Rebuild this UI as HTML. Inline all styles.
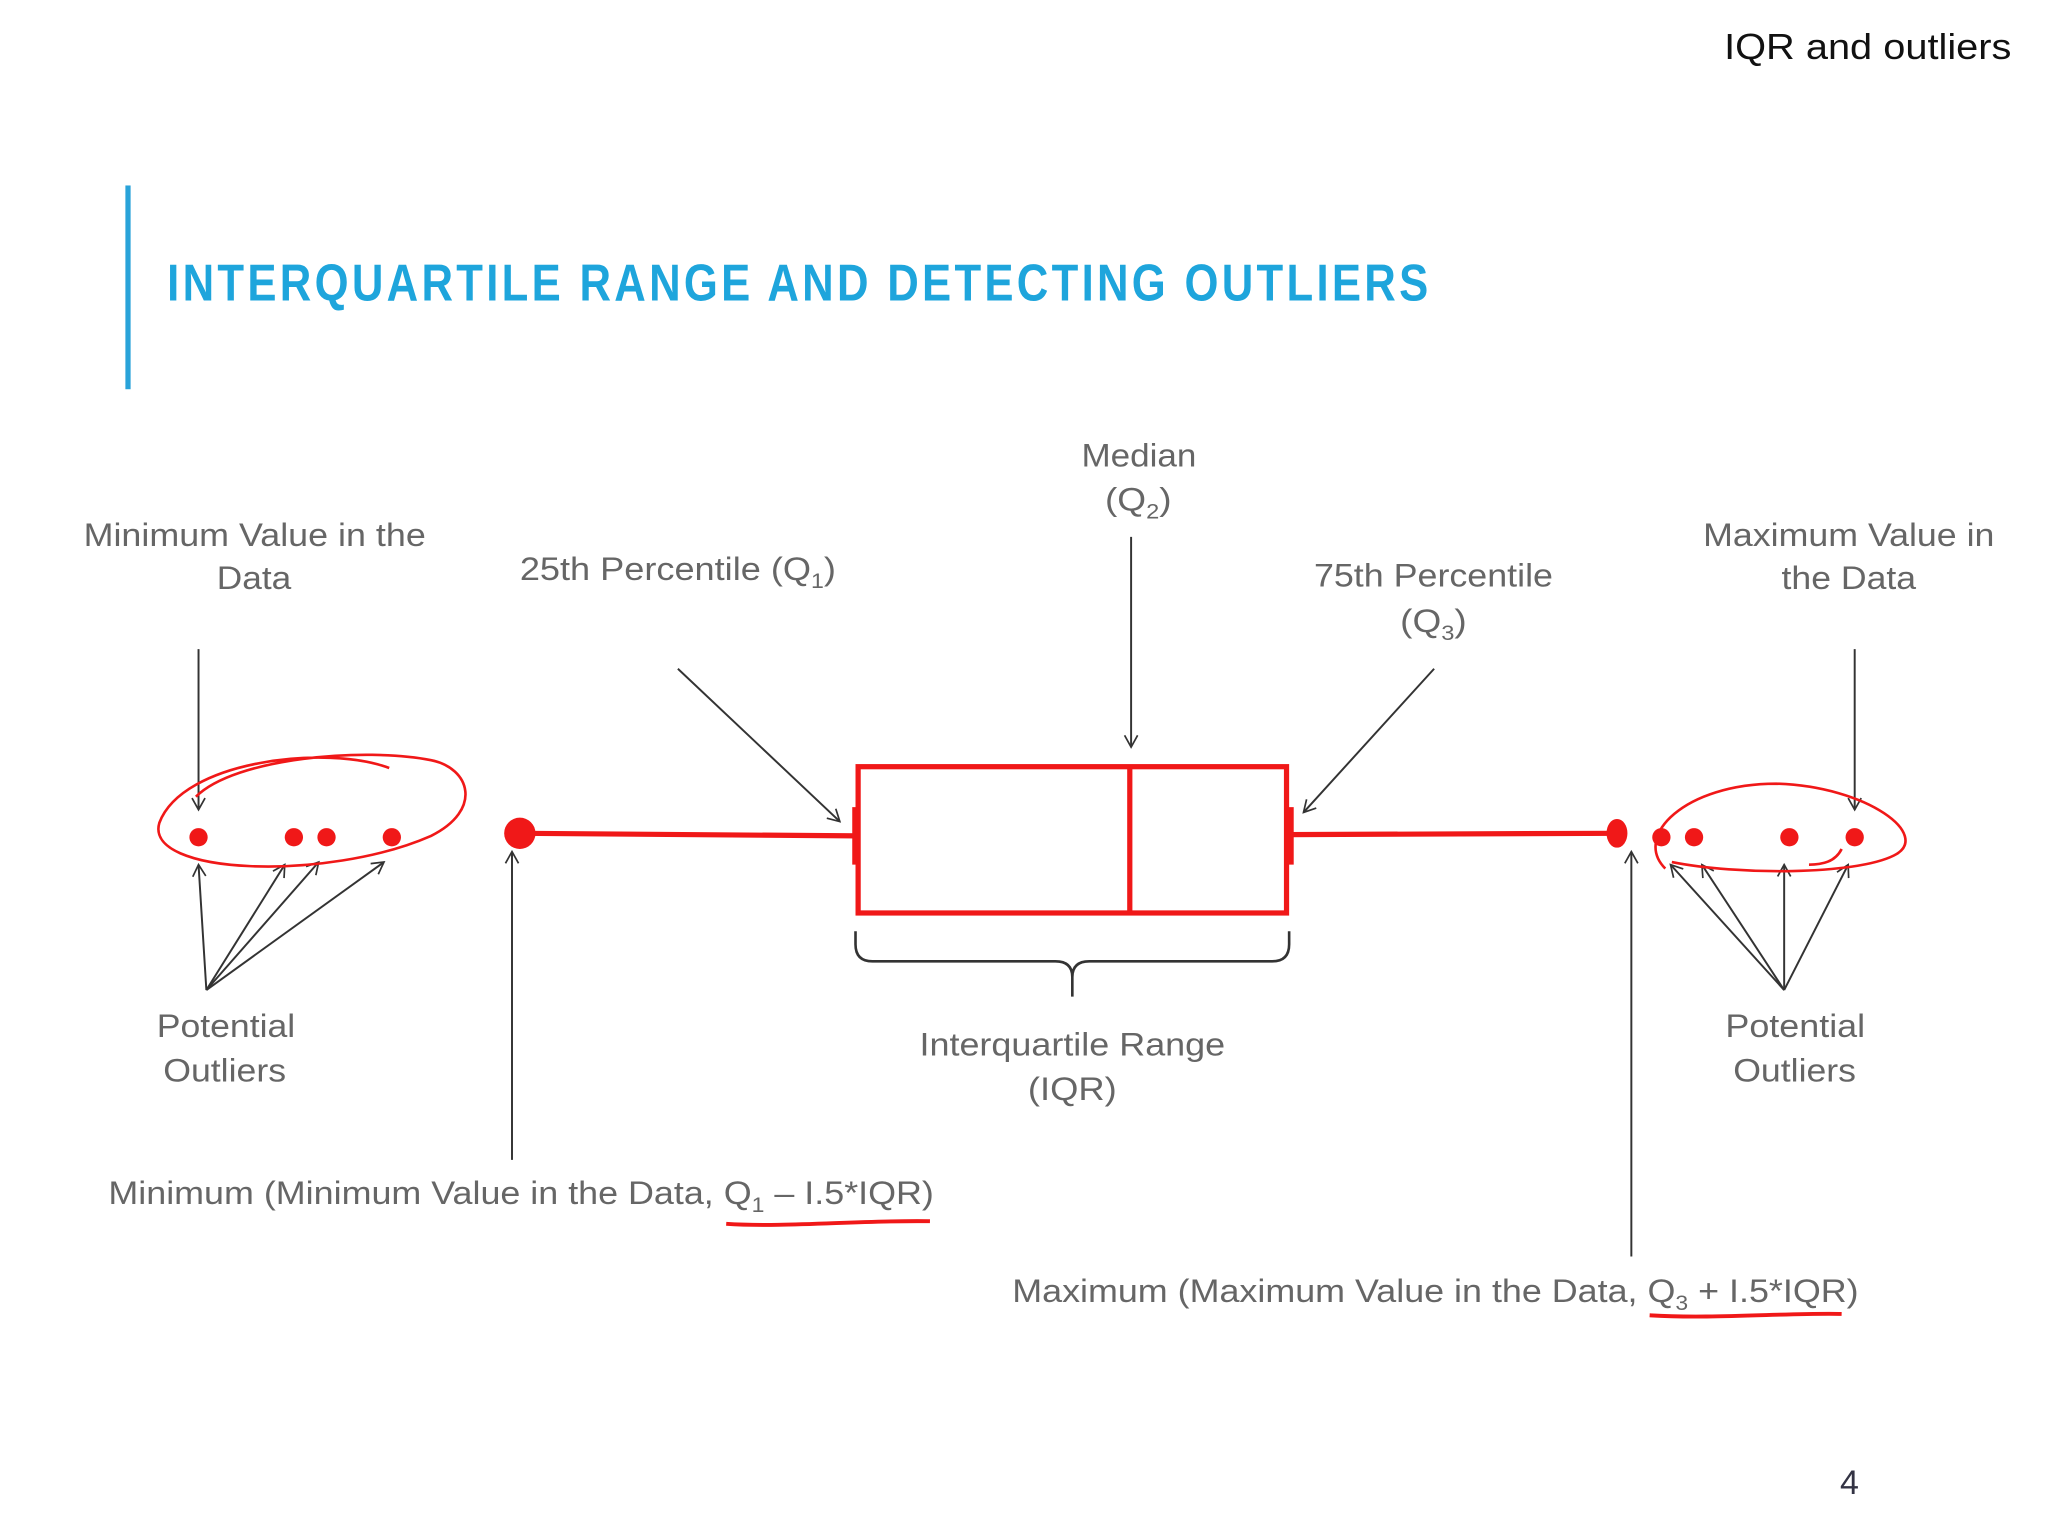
<!DOCTYPE html>
<html><head><meta charset="utf-8"><style>
html,body{margin:0;padding:0;background:#fff;}
svg{display:block;}
text{font-family:"Liberation Sans",sans-serif;}
</style></head><body>
<svg width="2048" height="1536" viewBox="0 0 1568 1176" xmlns="http://www.w3.org/2000/svg">
<defs>
<marker id="a" markerWidth="12" markerHeight="12" refX="10" refY="6" orient="auto" markerUnits="userSpaceOnUse">
<path d="M1,1 L10,6 L1,11" fill="none" stroke="#333" stroke-width="1.3"/>
</marker>
</defs>
<rect width="1568" height="1176" fill="#fff"/>
<text x="1320" y="45" font-size="28" fill="#111" textLength="220" lengthAdjust="spacingAndGlyphs">IQR and outliers</text>
<rect x="96" y="142" width="4" height="156" fill="#29a3d9"/>
<text x="128" y="230" font-size="40" font-weight="bold" fill="#1ea5dc" letter-spacing="3" textLength="968" lengthAdjust="spacingAndGlyphs">INTERQUARTILE RANGE AND DETECTING OUTLIERS</text>

<g fill="#666" font-size="25" lengthAdjust="spacingAndGlyphs">
<text x="828" y="357" textLength="88" lengthAdjust="spacingAndGlyphs">Median</text>
<text x="846" y="391" textLength="51" lengthAdjust="spacingAndGlyphs">(Q<tspan font-size="16" dy="6">2</tspan><tspan dy="-6">)</tspan></text>
<text x="64" y="418" textLength="262" lengthAdjust="spacingAndGlyphs">Minimum Value in the</text>
<text x="166" y="451" textLength="57" lengthAdjust="spacingAndGlyphs">Data</text>
<text x="398" y="444" textLength="242" lengthAdjust="spacingAndGlyphs">25th Percentile (Q<tspan font-size="16" dy="6">1</tspan><tspan dy="-6">)</tspan></text>
<text x="1006" y="449" textLength="183" lengthAdjust="spacingAndGlyphs">75th Percentile</text>
<text x="1072" y="484" textLength="51" lengthAdjust="spacingAndGlyphs">(Q<tspan font-size="16" dy="6">3</tspan><tspan dy="-6">)</tspan></text>
<text x="1304" y="418" textLength="223" lengthAdjust="spacingAndGlyphs">Maximum Value in</text>
<text x="1364" y="451" textLength="103" lengthAdjust="spacingAndGlyphs">the Data</text>
<text x="120" y="794" textLength="106" lengthAdjust="spacingAndGlyphs">Potential</text>
<text x="125" y="828" textLength="94" lengthAdjust="spacingAndGlyphs">Outliers</text>
<text x="1321" y="794" textLength="107" lengthAdjust="spacingAndGlyphs">Potential</text>
<text x="1327" y="828" textLength="94" lengthAdjust="spacingAndGlyphs">Outliers</text>
<text x="704" y="808" textLength="234" lengthAdjust="spacingAndGlyphs">Interquartile Range</text>
<text x="787" y="842" textLength="68" lengthAdjust="spacingAndGlyphs">(IQR)</text>
<text x="83" y="922" textLength="632" lengthAdjust="spacingAndGlyphs">Minimum (Minimum Value in the Data, Q<tspan font-size="16" dy="6">1</tspan><tspan dy="-6"> – I.5*IQR)</tspan></text>
<text x="775" y="997" textLength="648" lengthAdjust="spacingAndGlyphs">Maximum (Maximum Value in the Data, Q<tspan font-size="16" dy="6">3</tspan><tspan dy="-6"> + I.5*IQR)</tspan></text>
</g>

<g stroke="#333" stroke-width="1.5" fill="none" marker-end="url(#a)">
<line x1="152" y1="497" x2="152" y2="620"/>
<line x1="519" y1="512" x2="643" y2="629"/>
<line x1="866" y1="411" x2="866" y2="572"/>
<line x1="1098" y1="512" x2="998" y2="622"/>
<line x1="1420" y1="497" x2="1420" y2="620"/>
<line x1="392" y1="888" x2="392" y2="652"/>
<line x1="1249" y1="962" x2="1249" y2="652"/>
<line x1="158" y1="758" x2="152" y2="662"/>
<line x1="158" y1="758" x2="218" y2="662"/>
<line x1="158" y1="758" x2="244" y2="660"/>
<line x1="158" y1="758" x2="294" y2="660"/>
<line x1="1366" y1="758" x2="1279" y2="662"/>
<line x1="1366" y1="758" x2="1303" y2="662"/>
<line x1="1366" y1="758" x2="1366" y2="662"/>
<line x1="1366" y1="758" x2="1415" y2="662"/>
</g>
<path d="M655,713 v10 q0,13 13,13 h140 q13,0 13,12 v15 M821,748 q0,-12 13,-12 h140 q13,0 13,-13 v-10" stroke="#333" stroke-width="2" fill="none"/>

<g stroke="#f01818" fill="none">
<rect x="657" y="587" width="328" height="112" stroke-width="4"/>
<line x1="865" y1="587" x2="865" y2="699" stroke-width="4"/>
<line x1="400" y1="638" x2="657" y2="640" stroke-width="4"/>
<line x1="985" y1="639" x2="1238" y2="638" stroke-width="4"/>
<line x1="655" y1="618" x2="655" y2="662" stroke-width="5"/>
<line x1="988" y1="618" x2="988" y2="662" stroke-width="5"/>
<path d="M298,588 C250,570 140,582 122,630 C110,670 250,675 330,640 C370,620 360,588 330,582 C280,572 180,580 150,610" stroke-width="2"/>
<path d="M1275,665 C1250,640 1290,600 1360,600 C1430,602 1480,640 1450,655 C1420,670 1330,670 1280,660 M1410,650 C1405,660 1395,662 1385,662" stroke-width="2"/>
<path d="M556,937 C600,940 660,934 712,935" stroke-width="3"/>
<path d="M1263,1007 C1310,1010 1370,1005 1410,1006" stroke-width="3"/>
</g>
<g fill="#f01818">
<circle cx="152" cy="641" r="7"/><circle cx="225" cy="641" r="7"/><circle cx="250" cy="641" r="7"/><circle cx="300" cy="641" r="7"/>
<circle cx="398" cy="638" r="12"/><ellipse cx="1238" cy="638" rx="8" ry="11"/>
<circle cx="1272" cy="641" r="7"/><circle cx="1297" cy="641" r="7"/><circle cx="1370" cy="641" r="7"/><circle cx="1420" cy="641" r="7"/>
</g>
<text x="1416" y="1144" font-size="26" fill="#334" text-anchor="middle">4</text>
</svg>
</body></html>
